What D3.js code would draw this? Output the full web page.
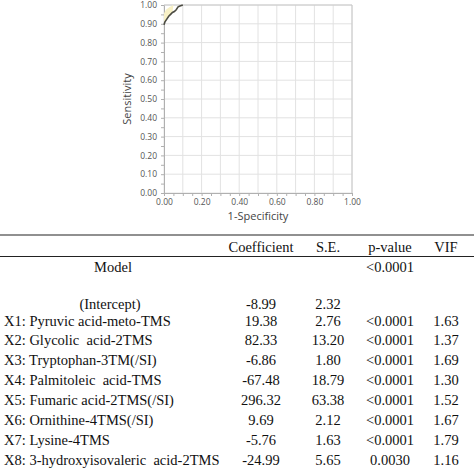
<!DOCTYPE html>
<html>
<head>
<meta charset="utf-8">
<script src="https://cdn.jsdelivr.net/npm/d3@7"></script>
<style>
  body { margin: 0; background: #fff; }
  svg { display: block; }
</style>
</head>
<body>
<svg id="chart" width="474" height="474"></svg>
<script>
// ROC curve points
const fpr = [0, 0.005, 0.015, 0.025, 0.035, 0.045, 0.055, 0.065, 0.075, 0.085, 0.10];
const tpr = [0.895, 0.91, 0.925, 0.94, 0.95, 0.96, 0.965, 0.975, 0.99, 0.995, 1.0];
// pale band above the curve (upper edge)
const bandFpr = [0, 0.01, 0.03, 0.05];
const bandTpr = [0.955, 0.975, 0.99, 1.0];

const axisTicks = [0, 0.1, 0.2, 0.3, 0.4, 0.5, 0.6, 0.7, 0.8, 0.9, 1.0];

// table
const headers = ["Coefficient", "S.E.", "p-value", "VIF"];
const rowLabels = [
  "X1: Pyruvic acid-meto-TMS",
  "X2: Glycolic  acid-2TMS",
  "X3: Tryptophan-3TM(/SI)",
  "X4: Palmitoleic  acid-TMS",
  "X5: Fumaric acid-2TMS(/SI)",
  "X6: Ornithine-4TMS(/SI)",
  "X7: Lysine-4TMS",
  "X8: 3-hydroxyisovaleric  acid-2TMS"
];
const coef = ["19.38", "82.33", "-6.86", "-67.48", "296.32", "9.69", "-5.76", "-24.99"];
const se = ["2.76", "13.20", "1.80", "18.79", "63.38", "2.12", "1.63", "5.65"];
const pval = ["<0.0001", "<0.0001", "<0.0001", "<0.0001", "<0.0001", "<0.0001", "<0.0001", "0.0030"];
const vif = ["1.63", "1.37", "1.69", "1.30", "1.52", "1.67", "1.79", "1.16"];
const modelP = "<0.0001";
const interceptCoef = "-8.99";
const interceptSE = "2.32";

const svg = d3.select("#chart");

// ---- ROC plot
const plot = { left: 164, top: 5, size: 188 };
const x = d3.scaleLinear().domain([0, 1]).range([plot.left, plot.left + plot.size]);
const y = d3.scaleLinear().domain([0, 1]).range([plot.top + plot.size, plot.top]);

const g = svg.append("g");

// grid
g.selectAll("line.vg").data(axisTicks).enter().append("line")
  .attr("x1", d => x(d)).attr("x2", d => x(d))
  .attr("y1", y(0)).attr("y2", y(1))
  .attr("stroke", "#e2e2e2").attr("stroke-width", 1);
g.selectAll("line.hg").data(axisTicks).enter().append("line")
  .attr("y1", d => y(d)).attr("y2", d => y(d))
  .attr("x1", x(0)).attr("x2", x(1))
  .attr("stroke", "#e2e2e2").attr("stroke-width", 1);

// axes
const fmt = d3.format(".2f");
const xAxis = g.append("g")
  .attr("transform", `translate(0,${y(0)})`)
  .call(d3.axisBottom(x).tickValues(d3.range(0, 1.0001, 0.05)).tickSize(3)
    .tickFormat((d, i) => i % 4 === 0 ? fmt(d) : ""));
const yAxis = g.append("g")
  .attr("transform", `translate(${x(0)},0)`)
  .call(d3.axisLeft(y).tickValues(d3.range(0, 1.0001, 0.05)).tickSize(3)
    .tickFormat((d, i) => i % 2 === 0 ? fmt(d) : ""));

[xAxis, yAxis].forEach(a => {
  a.select(".domain").attr("stroke", "#b0b0b0");
  a.selectAll(".tick line").attr("stroke", "#b0b0b0");
  a.selectAll(".tick text")
    .attr("fill", "#555")
    .style("font-family", "'Open Sans', sans-serif")
    .style("font-size", "8.5px");
});
xAxis.selectAll(".tick text").attr("dy", "0.75em");
yAxis.selectAll(".tick text").attr("dx", "-1px");

// right/top frame lines
g.append("line").attr("x1", x(1)).attr("x2", x(1)).attr("y1", y(0)).attr("y2", y(1))
  .attr("stroke", "#c8c8c8");
g.append("line").attr("x1", x(0)).attr("x2", x(1)).attr("y1", y(1)).attr("y2", y(1))
  .attr("stroke", "#c8c8c8");

// pale band
const bandPts = bandFpr.map((f, i) => [f, bandTpr[i]]);
const curvePts = fpr.map((f, i) => [f, tpr[i]]).filter(p => p[0] <= 0.05);
const bandPoly = bandPts.concat(curvePts.slice().reverse());
g.append("path")
  .attr("d", d3.line().x(d => x(d[0])).y(d => y(d[1]))(bandPoly) + "Z")
  .attr("fill", "#f8f1c6").attr("stroke", "none");

// ROC curve
g.append("path")
  .datum(fpr.map((f, i) => [f, tpr[i]]))
  .attr("d", d3.line().x(d => x(d[0])).y(d => y(d[1])))
  .attr("fill", "none").attr("stroke", "#4b4b42").attr("stroke-width", 1.6);

// axis titles
g.append("text")
  .attr("x", x(0.5)).attr("y", 219.5)
  .attr("text-anchor", "middle")
  .attr("fill", "#444")
  .style("font-family", "'Open Sans', sans-serif")
  .style("font-size", "11px")
  .text("1-Specificity");
g.append("text")
  .attr("transform", `translate(131,${y(0.5)}) rotate(-90)`)
  .attr("text-anchor", "middle")
  .attr("fill", "#444")
  .style("font-family", "'Open Sans', sans-serif")
  .style("font-size", "11px")
  .text("Sensitivity");

// ---- table
const t = svg.append("g")
  .style("font-family", "'Liberation Serif', 'Times New Roman', serif")
  .style("font-size", "14.5px")
  .attr("fill", "#111");

const colX = [261, 328, 390, 446];

t.append("line").attr("x1", 0).attr("x2", 474).attr("y1", 235).attr("y2", 235)
  .attr("stroke", "#222").attr("stroke-width", 1.2);
t.append("line").attr("x1", 0).attr("x2", 474).attr("y1", 256.5).attr("y2", 256.5)
  .attr("stroke", "#222").attr("stroke-width", 1.2);

t.selectAll("text.h").data(headers).enter().append("text")
  .attr("x", (d, i) => colX[i]).attr("y", 247)
  .attr("dominant-baseline", "central")
  .attr("text-anchor", "middle")
  .text(d => d);

t.append("text").attr("x", 113).attr("y", 267).attr("dominant-baseline", "central")
  .attr("text-anchor", "middle").text("Model");
t.append("text").attr("x", colX[2]).attr("y", 267).attr("dominant-baseline", "central")
  .attr("text-anchor", "middle").text(modelP);

const interceptY = 303.5;
t.append("text").attr("x", 110).attr("y", interceptY).attr("dominant-baseline", "central")
  .attr("text-anchor", "middle").text("(Intercept)");
t.append("text").attr("x", colX[0]).attr("y", interceptY).attr("dominant-baseline", "central")
  .attr("text-anchor", "middle").text(interceptCoef);
t.append("text").attr("x", colX[1]).attr("y", interceptY).attr("dominant-baseline", "central")
  .attr("text-anchor", "middle").text(interceptSE);

const rowY = i => 320.5 + i * 19.95;
const rows = t.selectAll("g.row").data(rowLabels).enter().append("g");
rows.append("text").attr("x", 4).attr("y", (d, i) => rowY(i))
  .attr("dominant-baseline", "central").style("white-space", "pre")
  .attr("xml:space", "preserve").text(d => d);
[coef, se, pval, vif].forEach((col, c) => {
  rows.append("text").attr("x", colX[c]).attr("y", (d, i) => rowY(i))
    .attr("dominant-baseline", "central").attr("text-anchor", "middle")
    .text((d, i) => col[i]);
});
</script>
</body>
</html>
